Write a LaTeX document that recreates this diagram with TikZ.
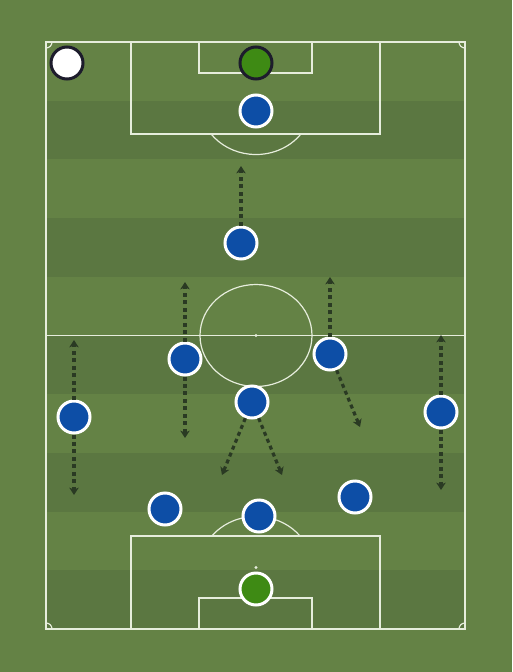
\documentclass[tikz,border=0pt]{standalone}
\usetikzlibrary{arrows.meta}

\definecolor{grasslight}{HTML}{648245}
\definecolor{grassdark}{HTML}{5B7741}
\definecolor{pitchline}{HTML}{E6EDDC}
\definecolor{kitblue}{HTML}{0D4EA6}
\definecolor{kitgreen}{HTML}{3E8A14}
\definecolor{kitdark}{HTML}{1D1C2C}
\definecolor{runline}{HTML}{2A3A23}

\begin{document}
\begin{tikzpicture}[x=0.75pt,y=-0.75pt,
        every node/.style={circle,minimum size=24pt,inner sep=0pt,line width=2.25pt},
        player/.style={draw=white,fill=kitblue},
        keeper/.style={draw=white,fill=kitgreen},
        other/.style={draw=kitdark},
        lines/.style={pitchline,line width=0.9pt},
        run/.style={runline,line width=2.4pt,dash pattern=on 3pt off 2.6pt,
            -{Stealth[length=5.5pt,width=7pt,inset=1.5pt]}}]
        \useasboundingbox (0,0) rectangle (512,672);
        \fill[grasslight] (0,0) rectangle (512,672);

        % stripes
        \foreach \k in {1,3,5,7,9}
            \fill[grassdark] (46,{42+58.7*\k}) rectangle (465,{42+58.7*(\k+1)});

        % markings
        \draw[lines] (46,42) rectangle (465,629);
        \draw[lines] (46,335.5) -- (465,335.5);
        \draw[lines] (256,335.5) ellipse[x radius=56,y radius=51];
        \fill[pitchline] (256,335.5) circle[radius=1.6];
        \draw[lines] (131,42) rectangle (380,134);
        \draw[lines] (199,42) rectangle (312,73);
        \draw[lines] (300.9,134) arc[start angle=36.7,end angle=143.3,x radius=56,y radius=51];
        \fill[pitchline] (256,103.5) circle[radius=1.6];
        \draw[lines] (131,536) rectangle (380,629);
        \draw[lines] (199,598) rectangle (312,629);
        \draw[lines] (211.9,536) arc[start angle=218.1,end angle=321.9,x radius=56,y radius=51];
        \fill[pitchline] (256,567.5) circle[radius=1.6];
        \draw[lines] (52,42) arc[start angle=0,end angle=90,radius=6];
        \draw[lines] (465,48) arc[start angle=90,end angle=180,radius=6];
        \draw[lines] (46,623) arc[start angle=270,end angle=360,radius=6];
        \draw[lines] (459,629) arc[start angle=180,end angle=270,radius=6];

        % run targets
        \coordinate (amup) at (241,166);
        \coordinate (lmup) at (185,282);
        \coordinate (lmdown) at (185,438);
        \coordinate (rmup) at (330,277);
        \coordinate (rmdown) at (360,427);
        \coordinate (dmleft) at (222,475);
        \coordinate (dmright) at (282,475);
        \coordinate (lwup) at (74,340);
        \coordinate (lwdown) at (74,495);
        \coordinate (rwup) at (441,335);
        \coordinate (rwdown) at (441,490);

        % players
        \node[other,fill=white] at (67,63) (ball) {};
        \node[other,fill=kitgreen] at (256,63) (opp) {};
        \node[player] at (256,111) (st) {};
        \node[player] at (241,243) (am) {};
        \node[player] at (185,359) (lm) {};
        \node[player] at (330,354) (rm) {};
        \node[player] at (252,402) (dm) {};
        \node[player] at (74,417) (lw) {};
        \node[player] at (441,412) (rw) {};
        \node[player] at (165,509) (lcb) {};
        \node[player] at (259,516) (cb) {};
        \node[player] at (355,497) (rcb) {};
        \node[keeper] at (256,589) (gk) {};

        % runs
        \draw[run] (am) -- (amup);
        \draw[run] (lm) -- (lmup);
        \draw[run] (lm) -- (lmdown);
        \draw[run] (rm) -- (rmup);
        \draw[run] (rm) -- (rmdown);
        \draw[run] (dm) -- (dmleft);
        \draw[run] (dm) -- (dmright);
        \draw[run] (lw) -- (lwup);
        \draw[run] (lw) -- (lwdown);
        \draw[run] (rw) -- (rwup);
        \draw[run] (rw) -- (rwdown);
    \end{tikzpicture}
\end{document}
